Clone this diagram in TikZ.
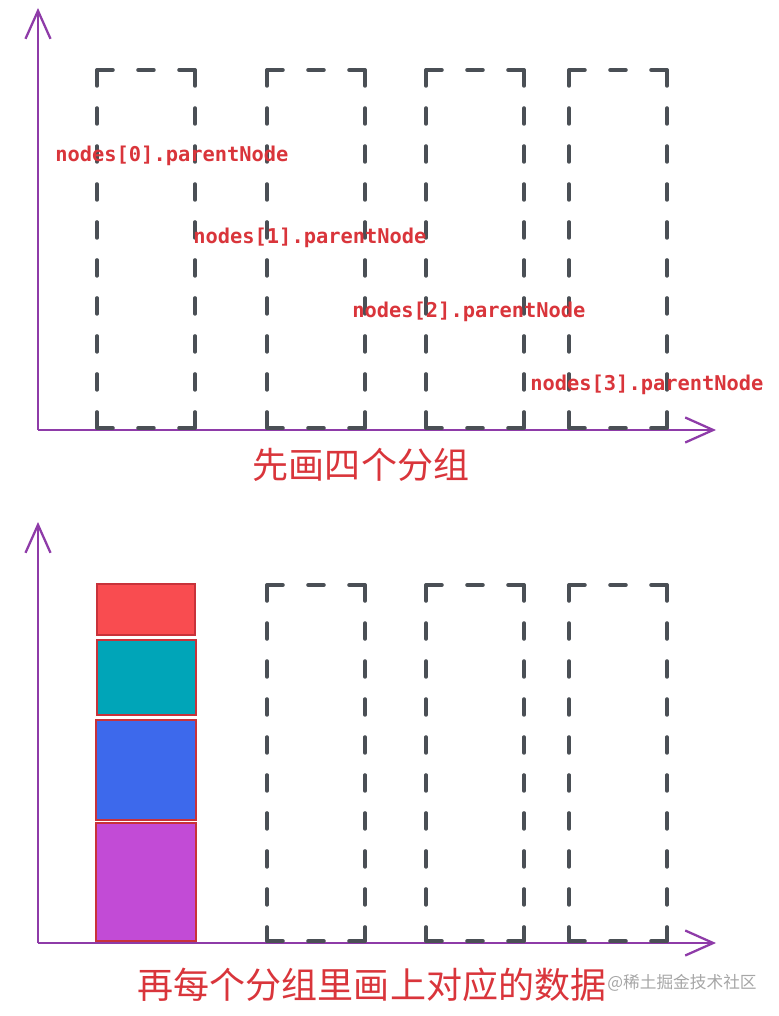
\documentclass[tikz,border=0pt]{standalone}
\usepackage{fontspec}
\usepackage{tikz}
\usetikzlibrary{arrows.meta}
\usetikzlibrary{positioning}
\newfontfamily\codefont{DejaVu Sans Mono}
\newfontfamily\cjk{Noto Sans CJK SC}
\definecolor{axispurple}{HTML}{8E3BA8}
\definecolor{groupgray}{HTML}{4A4F55}
\definecolor{labelred}{HTML}{D9353B}
\definecolor{barred}{HTML}{F94C50}
\definecolor{barteal}{HTML}{00A5B8}
\definecolor{barblue}{HTML}{3D69EC}
\definecolor{barpurple}{HTML}{C24BD6}
\definecolor{barborder}{HTML}{C8323A}
\tikzset{>={Straight Barb[length=0.56cm, width=0.5cm, line width=1.3pt]}}
\tikzset{axis/.style = {->, draw=axispurple, line width=1.3pt}}
\tikzset{group/.style = {draw=groupgray, line width=2pt, line cap=round}}
\tikzset{hgroup/.style = {group, dash pattern=on 0.32cm off 0.5cm}}
\tikzset{vgroup/.style = {group, dash pattern=on 0.32cm off 0.44cm}}
\tikzset{parent/.style = {text=labelred, font=\codefont\bfseries\fontsize{11.6pt}{13pt}\selectfont, inner sep=0, anchor=west}}
\tikzset{caption/.style = {text=labelred, font=\cjk\fontsize{20.5pt}{24pt}\selectfont, inner sep=0}}
\tikzset{bar/.style = {draw=barborder, line width=1.2pt}}
% one empty group, each side dashed from its corner
\newcommand{\groupbox}[4]{%
  \draw [hgroup] (#1, #2) -- (#3, #2);
  \draw [hgroup] (#1, #4) -- (#3, #4);
  \draw [vgroup] (#1, #2) -- (#1, #4);
  \draw [vgroup] (#3, #2) -- (#3, #4);
}

\begin{document}
\begin{tikzpicture}[x=0.02cm, y=-0.02cm]
\useasboundingbox (0,0) rectangle (778,1016);
% first picture: the four groups
\coordinate (O1) at (38, 430);
\coordinate (Y1) at (38, 8);
\coordinate (X1) at (716, 430);
\draw [axis] (O1) to (Y1);
\draw [axis] (O1) to (X1);
\groupbox{97}{70}{195}{428}
\groupbox{267}{70}{365}{428}
\groupbox{426}{70}{524}{428}
\groupbox{569}{70}{667}{428}
\node [parent] (P0) at (55, 156) {nodes[0].parentNode};
\node [parent] (P1) at (193, 238) {nodes[1].parentNode};
\node [parent] (P2) at (352, 312) {nodes[2].parentNode};
\node [parent] (P3) at (530, 385) {nodes[3].parentNode};
\node [caption] (C1) at (361, 465) {先画四个分组};
% second picture: data in each group
\coordinate (O2) at (38, 943);
\coordinate (Y2) at (38, 522);
\coordinate (X2) at (716, 943);
\draw [axis] (O2) to (Y2);
\draw [axis] (O2) to (X2);
\groupbox{267}{585}{365}{941}
\groupbox{426}{585}{524}{941}
\groupbox{569}{585}{667}{941}
\draw [bar, fill=barpurple] (96, 823) rectangle (196, 941);
\draw [bar, fill=barblue] (96, 720) rectangle (196, 820);
\draw [bar, fill=barteal] (97, 640) rectangle (196, 715);
\draw [bar, fill=barred] (97, 584) rectangle (195, 635);
\node [caption] (C2) at (372, 985) {再每个分组里画上对应的数据};
\node [text=gray!70, font=\cjk\fontsize{9.5pt}{11pt}\selectfont, inner sep=0, anchor=west] (W) at (607, 983) {@稀土掘金技术社区};
\end{tikzpicture}
\end{document}
